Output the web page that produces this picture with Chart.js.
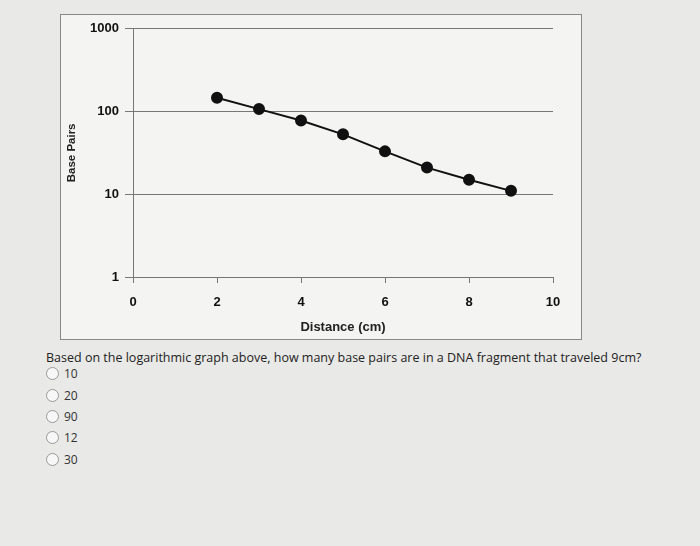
<!DOCTYPE html>
<html>
<head>
<meta charset="utf-8">
<script src="https://cdn.jsdelivr.net/npm/chart.js@4"></script>
<style>
  body { margin: 0; width: 700px; height: 546px; background: #e9e9e7; font-family: "Open Sans", sans-serif; position: relative; overflow: hidden; }
  #box { position: absolute; left: 60px; top: 14px; width: 522px; height: 326px; background: #f4f4f2; border: 1px solid #888; box-sizing: border-box; }
  #q { position: absolute; left: 46px; top: 349px; font-size: 12.5px; color: #222; }
  .opt { position: absolute; left: 46px; font-size: 12px; color: #333; }
  .opt span { display: inline-block; width: 11px; height: 11px; border: 1px solid #999; border-radius: 50%; vertical-align: -2px; margin-right: 5px; background: #f7f7f7; }
</style>
</head>
<body>
<div id="box"><canvas id="chart" width="520" height="324"></canvas></div>
<div id="q">Based on the logarithmic graph above, how many base pairs are in a DNA fragment that traveled 9cm?</div>
<div class="opt" style="top:365px"><span></span>10</div>
<div class="opt" style="top:387px"><span></span>20</div>
<div class="opt" style="top:408px"><span></span>90</div>
<div class="opt" style="top:429px"><span></span>12</div>
<div class="opt" style="top:451px"><span></span>30</div>
<script>
// Values
const distance = [2, 3, 4, 5, 6, 7, 8, 9];
const basePairs = [147, 107, 78, 53, 33, 21, 15, 11];
const yTicks = [1, 10, 100, 1000];

const ctx = document.getElementById("chart").getContext("2d");
new Chart(ctx, {
  type: "scatter",
  data: {
    datasets: [{
      data: distance.map((d, i) => ({ x: d, y: basePairs[i] })),
      showLine: true,
      borderColor: "#111",
      backgroundColor: "#111",
      borderWidth: 2,
      pointRadius: 5,
    }],
  },
  options: {
    responsive: false,
    animation: false,
    layout: { padding: { top: 12, right: 28 } },
    plugins: { legend: { display: false }, tooltip: { enabled: false } },
    scales: {
      x: {
        type: "linear", min: 0, max: 10,
        ticks: { stepSize: 2, padding: 12, color: "#111", font: { weight: "bold", size: 13 } },
        grid: { drawOnChartArea: false, color: "#777", tickLength: 6 },
        border: { color: "#777" },
        title: { display: true, text: "Distance (cm)", color: "#222", font: { weight: "bold", size: 13 } },
        afterFit: (s) => { s.height = 62; },
      },
      y: {
        type: "logarithmic", min: 1, max: 1000,
        afterBuildTicks: (s) => { s.ticks = yTicks.map((v) => ({ value: v })); },
        ticks: { padding: 6, color: "#111", font: { weight: "bold", size: 13 }, callback: (v) => String(v) },
        grid: { color: "#777", tickLength: 8 },
        border: { color: "#777" },
        title: { display: true, text: "Base Pairs", color: "#222", font: { weight: "bold", size: 11.5 } },
        afterFit: (s) => { s.width = 72; },
      },
    },
  },
});
</script>
</body>
</html>
